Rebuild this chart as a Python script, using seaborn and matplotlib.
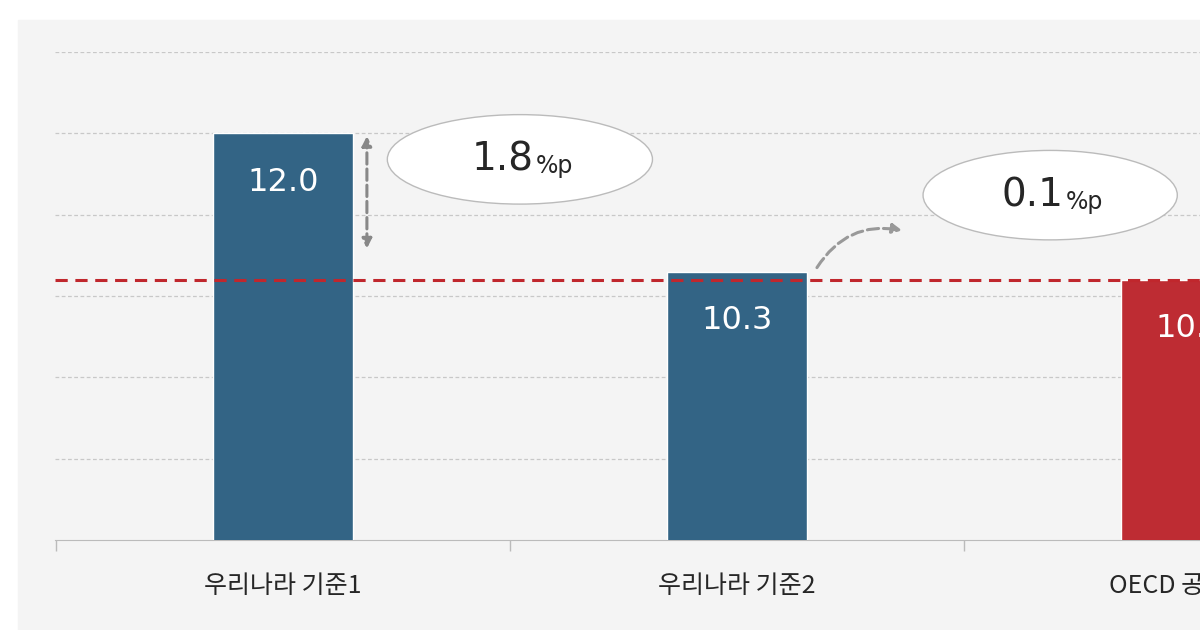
import matplotlib
matplotlib.use('Agg')
import matplotlib.pyplot as plt
import matplotlib.patches as patches
import seaborn as sns
import pandas as pd

categories = ['우리나라 기준1', '우리나라 기준2', 'OECD 공통기준']
values = [12.0, 10.3, 10.2]
bar_colors = ['#336485', '#336485', '#BE2C33']
oecd_line = 10.2
diffs = ['1.8', '0.1']

sns.set_style('white')
plt.rcParams['font.family'] = ['Noto Sans CJK KR', 'DejaVu Sans']

fig = plt.figure(figsize=(12, 6.3), dpi=100, facecolor='white')
fig.patches.append(patches.Rectangle((18 / 1200, 0), 1, 610 / 630, transform=fig.transFigure,
                                     color='#F4F4F4', zorder=-5))
ax = fig.add_axes([55 / 1200, 90 / 630, 1 - 55 / 1200, 488 / 630])
ax.set_facecolor('none')

df = pd.DataFrame({'cat': categories, 'val': values})
sns.barplot(data=df, x='cat', y='val', hue='cat', palette=bar_colors, legend=False,
            saturation=1, width=140 / 454, ax=ax, zorder=3)

ax.set_xlim(-0.502, 2.02)
ax.set_ylim(7, 13)
for y in range(8, 14):
    ax.axhline(y, color='#C8C8C8', ls=(0, (3, 2)), lw=0.9, zorder=1)
for s in ['top', 'right', 'left']:
    ax.spines[s].set_visible(False)
ax.spines['bottom'].set_color('#BBBBBB')
ax.set_yticks([])
ax.set_xticks([-0.5, 0.5, 1.5], minor=True)
ax.tick_params(axis='x', which='minor', bottom=True, length=8, width=1, color='#BBBBBB',
               direction='out')
ax.tick_params(axis='x', which='major', length=0, pad=24, labelsize=18)
ax.set_xlabel('')
ax.set_ylabel('')

for i, v in enumerate(values):
    ax.text(i, v - 0.6, f'{v:.1f}', color='white', ha='center', va='center', fontsize=23,
            fontfamily='DejaVu Sans', zorder=5)

ax.axhline(oecd_line, color='#C0272D', ls=(0, (4, 2.5)), lw=2.2, zorder=4)

# bubbles
for (cx, cy, w), d in zip([(0.522, 11.68, 0.584), (1.69, 11.24, 0.56)], diffs):
    ax.add_patch(patches.Ellipse((cx, cy), w, 1.1, facecolor='white', edgecolor='#BBBBBB',
                                 lw=1, zorder=6))
    ax.text(cx + 0.03, cy, d, ha='right', va='center', fontsize=28, fontfamily='DejaVu Sans', zorder=7)
    ax.text(cx + 0.035, cy - 0.08, '%p', ha='left', va='center', fontsize=17,
            fontfamily='DejaVu Sans', zorder=7)

ax.annotate('', xy=(0.185, 12.0), xytext=(0.185, 10.55),
            arrowprops=dict(arrowstyle='<|-|>', color='#888888', lw=2.2, ls='--',
                            mutation_scale=14), zorder=6)
ax.annotate('', xy=(1.37, 10.8), xytext=(1.173, 10.32),
            arrowprops=dict(arrowstyle='-|>', color='#999999', lw=2.2, ls='--',
                            connectionstyle='arc3,rad=-0.35', mutation_scale=14), zorder=6)

fig.savefig('out.png', dpi=100)
